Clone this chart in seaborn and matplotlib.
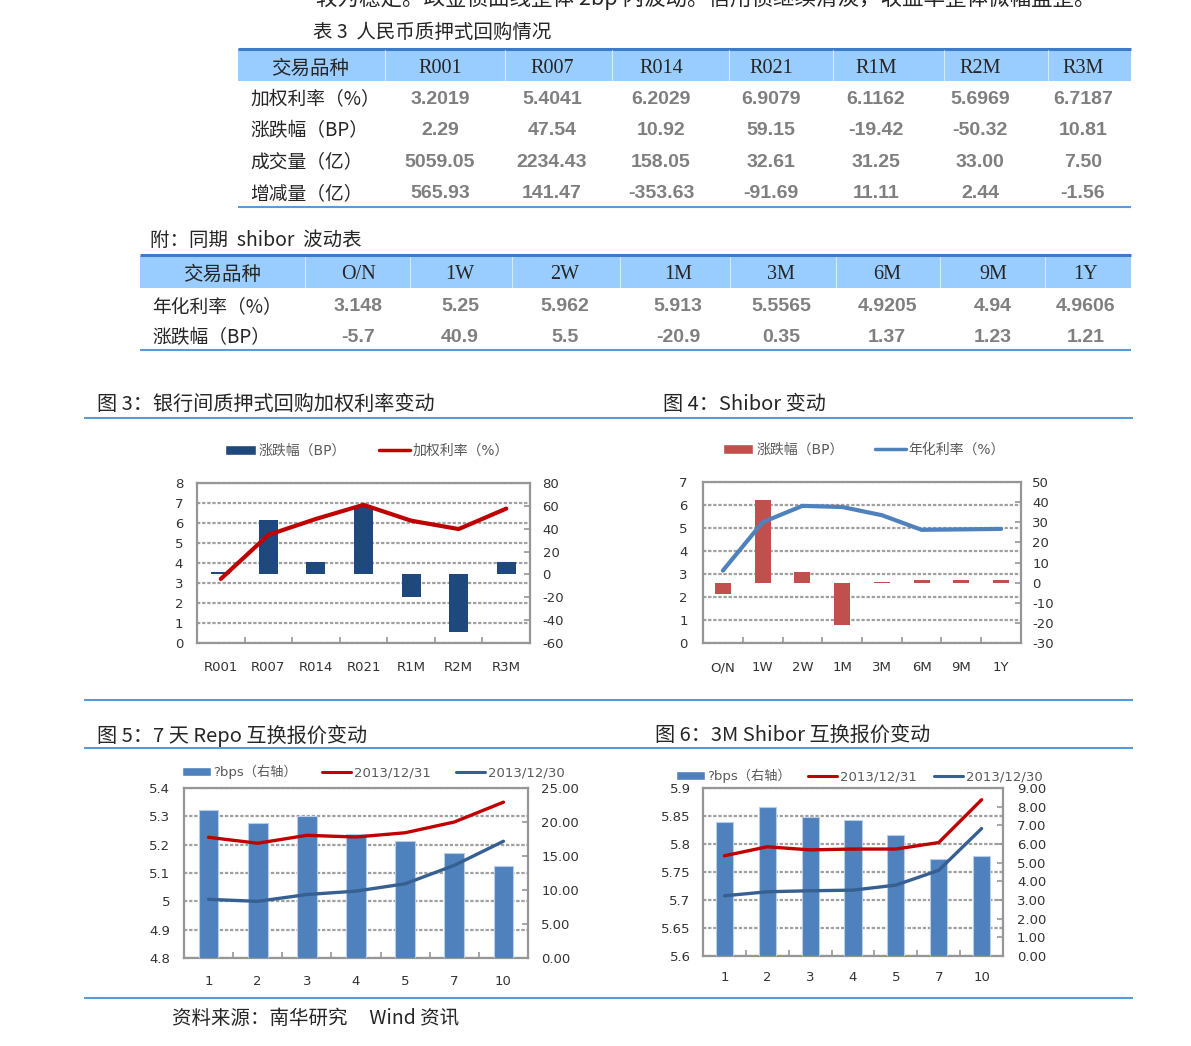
import numpy as np
import matplotlib
matplotlib.use('Agg')
import matplotlib.pyplot as plt
from matplotlib.patches import Rectangle, Patch
from matplotlib.lines import Line2D
from matplotlib.ticker import MultipleLocator, FuncFormatter, FormatStrFormatter
import seaborn as sns

W, H = 1191, 1046

# 表3 人民币质押式回购
repo_items = ['R001', 'R007', 'R014', 'R021', 'R1M', 'R2M', 'R3M']
repo_rate = [3.2019, 5.4041, 6.2029, 6.9079, 6.1162, 5.6969, 6.7187]
repo_bp = [2.29, 47.54, 10.92, 59.15, -19.42, -50.32, 10.81]
repo_vol = [5059.05, 2234.43, 158.05, 32.61, 31.25, 33.00, 7.50]
repo_chg = [565.93, 141.47, -353.63, -91.69, 11.11, 2.44, -1.56]

# 同期 shibor
shibor_items = ['O/N', '1W', '2W', '1M', '3M', '6M', '9M', '1Y']
shibor_rate = [3.148, 5.25, 5.962, 5.913, 5.5565, 4.9205, 4.94, 4.9606]
shibor_bp = [-5.7, 40.9, 5.5, -20.9, 0.35, 1.37, 1.23, 1.21]

# 互换报价
tenors = ['1', '2', '3', '4', '5', '7', '10']
repo_swap_1231 = [5.226, 5.205, 5.233, 5.227, 5.242, 5.280, 5.350]
repo_swap_1230 = [5.007, 5.000, 5.024, 5.036, 5.062, 5.127, 5.212]
repo_swap_bps = [21.7, 19.9, 20.9, 18.3, 17.25, 15.5, 13.6]
shibor_swap_1231 = [5.779, 5.795, 5.7895, 5.791, 5.791, 5.8026, 5.879]
shibor_swap_1230 = [5.7075, 5.7147, 5.7165, 5.7176, 5.7266, 5.753, 5.8276]
shibor_swap_bps = [7.18, 7.99, 7.45, 7.31, 6.47, 5.19, 5.35]

sns.set_style('white')
plt.rcParams['font.family'] = ['Noto Sans CJK SC', 'DejaVu Sans']

CJK = ['Noto Sans CJK SC', 'DejaVu Sans']
TICKF = ['DejaVu Sans', 'Noto Sans CJK SC']
SERIF = ['Liberation Serif', 'Noto Sans CJK SC']
NUM = ['Liberation Sans', 'DejaVu Sans']
LINE_BLUE = '#5B9BD5'
GRAY_TXT = '#7F7F7F'

fig = plt.figure(figsize=(W / 100, H / 100), dpi=100)
page = fig.add_axes([0, 0, 1, 1])
page.set_xlim(0, W)
page.set_ylim(H, 0)
page.axis('off')


def txt(x, y, s, size=13, ha='left', family=CJK, dy=2.5, **kw):
    page.text(x, y + dy, s, fontsize=size, ha=ha, va='center', family=family, **kw)


def hline(y, x0=84, x1=1133, color=LINE_BLUE, lw=1.5):
    page.plot([x0, x1], [y, y], color=color, lw=lw, solid_capstyle='butt')


# text line cut at the top of the page (as in the source page)
txt(316, -4, '较为稳定。政金债曲线整体 2bp 内波动。信用债继续清淡，收益率整体微幅盘整。', size=15.5)

# ---- 表3 ----
txt(313, 30, '表 3  人民币质押式回购情况', size=14)
page.add_patch(Rectangle((238, 49), 1131 - 238, 32, facecolor='#99CCFF', edgecolor='none'))
hline(49, 238, 1131, color='#3D7CC9', lw=2.2)
hline(207, 238, 1131, lw=1.5)
for sx in [385, 505, 612, 729, 833, 944, 1048]:
    page.plot([sx, sx], [50, 81], color='white', lw=0.8, alpha=0.6)
t1_cx = [440, 552, 661, 771, 876, 980, 1083]
txt(310, 66, '交易品种', size=14, ha='center')
for cx, item in zip(t1_cx, repo_items):
    txt(cx, 66, item, size=14.5, ha='center', family=SERIF)
t1_rows = [('加权利率（%）', ['%.4f' % v for v in repo_rate]),
           ('涨跌幅（BP）', ['%.2f' % v for v in repo_bp]),
           ('成交量（亿）', ['%.2f' % v for v in repo_vol]),
           ('增减量（亿）', ['%.2f' % v for v in repo_chg])]
for i, (lab, vals) in enumerate(t1_rows):
    y = 97 + i * 31.3
    txt(250, y, lab, size=13.5)
    for cx, v in zip(t1_cx, vals):
        txt(cx, y, v, size=14, ha='center', family=NUM, color=GRAY_TXT, weight='bold')

# ---- shibor 表 ----
txt(150, 238, '附：同期  shibor  波动表', size=14)
page.add_patch(Rectangle((140, 256), 1131 - 140, 32, facecolor='#99CCFF', edgecolor='none'))
hline(255, 140, 1131, color='#3D7CC9', lw=2.2)
hline(350, 140, 1131, lw=1.5)
for sx in [305, 410, 512, 620, 730, 836, 940, 1045]:
    page.plot([sx, sx], [257, 288], color='white', lw=0.8, alpha=0.6)
t2_cx = [358, 460, 565, 678, 781, 887, 993, 1086]
txt(222, 272, '交易品种', size=14, ha='center')
for cx, item in zip(t2_cx, shibor_items):
    txt(cx, 272, item, size=14.5, ha='center', family=SERIF)
t2_rows = [('年化利率（%）', ['%g' % v for v in shibor_rate]),
           ('涨跌幅（BP）', ['%g' % v for v in shibor_bp])]
for i, (lab, vals) in enumerate(t2_rows):
    y = 304 + i * 31
    txt(152, y, lab, size=13.5)
    for cx, v in zip(t2_cx, vals):
        txt(cx, y, v, size=14, ha='center', family=NUM, color=GRAY_TXT, weight='bold')

# ---- section titles and rules ----
txt(97, 402, '图 3：银行间质押式回购加权利率变动', size=14.5)
txt(663, 402, '图 4：Shibor 变动', size=14.5)
hline(418)
hline(700)
txt(97, 733, '图 5：7 天 Repo 互换报价变动', size=14.5)
txt(655, 733, '图 6：3M Shibor 互换报价变动', size=14.5)
hline(748)
hline(998)
txt(172, 1016, '资料来源：南华研究     Wind 资讯', size=14)


def px_rect(x0, y0, x1, y1):
    return [x0 / W, 1 - y1 / H, (x1 - x0) / W, (y1 - y0) / H]


def combo(rect, cats, bars, bar_color, lines, ylim_l, step_l, ylim_r, step_r,
          fmt_r, pad_l, pad_r, pad_x, bar_edge='none'):
    ax = fig.add_axes(px_rect(*rect))
    axb = ax.twinx()
    axl = ax.twinx()
    n = len(cats)
    pos = np.arange(n)

    sns.barplot(x=pos, y=bars, ax=axb, color=bar_color, width=0.4, saturation=1,
                native_scale=True, edgecolor=bar_edge, linewidth=0.8 if bar_edge != 'none' else 0)
    for vals, c, lw in lines:
        sns.lineplot(x=pos, y=vals, ax=axl, color=c, linewidth=lw, legend=False)

    for a in (ax, axb, axl):
        a.set_xlim(-0.5, n - 0.5)
        a.set_xlabel('')
        a.set_ylabel('')
    ax.set_ylim(*ylim_l)
    axl.set_ylim(*ylim_l)
    axb.set_ylim(*ylim_r)

    ax.yaxis.set_major_locator(MultipleLocator(step_l))
    ax.yaxis.set_major_formatter(FuncFormatter(lambda v, _: '%g' % round(v, 4)))
    ax.tick_params(axis='y', length=0, pad=pad_l, labelsize=9.5, labelcolor='#333333')
    ax.grid(axis='y', color='#A0A0A0', linestyle=(0, (1.5, 0.8)), linewidth=1.6)
    ax.grid(axis='x', visible=False)
    for s in ax.spines.values():
        s.set_color('#969696')
        s.set_linewidth(1.6)

    ax.set_xticks(pos)
    ax.set_xticklabels(cats)
    ax.set_xticks(pos[:-1] + 0.5, minor=True)
    ax.tick_params(axis='x', which='major', length=0, pad=pad_x, labelsize=9.5, labelcolor='#333333')
    ax.tick_params(axis='x', which='minor', direction='in', length=4, width=1.2, color='#969696', bottom=True)
    for lab in ax.get_xticklabels() + ax.get_yticklabels():
        lab.set_family(TICKF)

    axb.yaxis.set_major_locator(MultipleLocator(step_r))
    axb.yaxis.set_major_formatter(FormatStrFormatter(fmt_r))
    axb.tick_params(axis='y', direction='in', length=4, width=1.2, color='#969696',
                    pad=pad_r, labelsize=9.5, labelcolor='#333333')
    for lab in axb.get_yticklabels():
        lab.set_family(TICKF)
    for a in (axb, axl):
        for s in a.spines.values():
            s.set_visible(False)
    axl.set_yticks([])
    axl.grid(False)
    axb.grid(False)
    return ax


def legend(handles, labels, cx, cy, colsp, size=9.5):
    fig.legend(handles, labels, loc='center', bbox_to_anchor=(cx / W, 1 - cy / H),
               ncol=len(handles), frameon=False, handlelength=2.2, handletextpad=0.2,
               columnspacing=colsp, labelcolor='#595959',
               prop={'family': TICKF, 'size': size})


# 图3
c3_bar, c3_line = '#1F497D', '#C00000'
combo((197, 483, 530, 643), repo_items, repo_bp, c3_bar, [(repo_rate, c3_line, 3.0)],
      (0, 8), 1, (-60, 80), 20, '%d', 10, 9, 13)
legend([Patch(facecolor=c3_bar), Line2D([], [], color=c3_line, lw=2.5)],
       ['涨跌幅（BP）', '加权利率（%）'], 367, 451, 2.4, size=10)

# 图4
c4_bar, c4_line = '#C0504D', '#4F81BD'
combo((703, 482, 1021, 643), shibor_items, shibor_bp, c4_bar, [(shibor_rate, c4_line, 3.0)],
      (0, 7), 1, (-30, 50), 10, '%d', 11, 8, 13)
legend([Patch(facecolor=c4_bar), Line2D([], [], color=c4_line, lw=2.5)],
       ['涨跌幅（BP）', '年化利率（%）'], 864, 450, 2.3, size=10)

# 图5
c5_bar, c5_red, c5_blue = '#4F81BD', '#C00000', '#376092'
combo((184, 788, 528, 958), tenors, repo_swap_bps, c5_bar,
      [(repo_swap_1231, c5_red, 2.4), (repo_swap_1230, c5_blue, 2.4)],
      (4.8, 5.4), 0.1, (0, 25), 5, '%.2f', 10, 9.5, 12, bar_edge='#B9CDE5')
legend([Patch(facecolor=c5_bar), Line2D([], [], color=c5_red, lw=2.2),
        Line2D([], [], color=c5_blue, lw=2.2)],
       ['?bps（右轴）', '2013/12/31', '2013/12/30'], 373, 772, 1.9)

# 图6
combo((703, 788, 1003, 956), tenors, shibor_swap_bps, c5_bar,
      [(shibor_swap_1231, c5_red, 2.4), (shibor_swap_1230, c5_blue, 2.4)],
      (5.6, 5.9), 0.05, (0, 9), 1, '%.2f', 9, 10, 11, bar_edge='#B9CDE5')
legend([Patch(facecolor=c5_bar), Line2D([], [], color=c5_red, lw=2.2),
        Line2D([], [], color=c5_blue, lw=2.2)],
       ['?bps（右轴）', '2013/12/31', '2013/12/30'], 859, 776, 1.3)

fig.savefig('out.png', dpi=100)
